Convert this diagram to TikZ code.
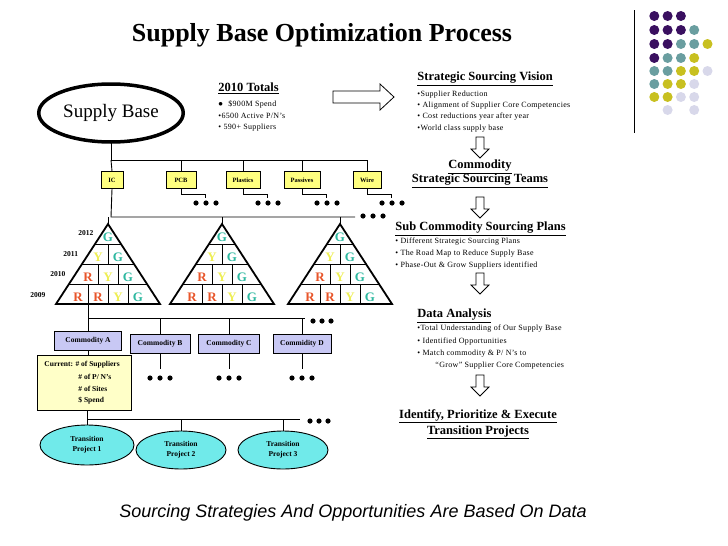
\documentclass[tikz,border=0pt]{standalone}
\usepackage{fontspec}
\setmainfont{Liberation Serif}
\newfontfamily\arialf{Liberation Sans}
\usetikzlibrary{shapes.geometric}
\definecolor{boxy}{HTML}{FFFF80}
\definecolor{curry}{HTML}{FFFFC8}
\definecolor{lav}{HTML}{C8C8F4}
\definecolor{cyanf}{HTML}{70EAEA}
\definecolor{rr}{HTML}{E8552A}
\definecolor{yy}{HTML}{EEEE55}
\definecolor{gg}{HTML}{2EB8A0}
\definecolor{dP}{HTML}{3A1060}
\definecolor{dT}{HTML}{6A9EA0}
\definecolor{dY}{HTML}{C8C020}
\definecolor{dL}{HTML}{D8D8EA}
\begin{document}
\begin{tikzpicture}[x=1pt,y=-1pt,line width=0.9pt,
  cbox/.style={draw,fill=boxy,minimum height=17,inner sep=1pt,font=\fontsize{6.5}{7}\selectfont\bfseries},
  combox/.style={draw,fill=lav,minimum height=19,inner sep=1pt,font=\fontsize{7.5}{8}\selectfont\bfseries},
  tp/.style={draw,ellipse,fill=cyanf,minimum width=90,minimum height=38,inner sep=0pt,align=center,font=\fontsize{7.5}{10}\selectfont\bfseries},
  lbl/.style={anchor=west,inner sep=0pt,font=\fontsize{8}{9}\selectfont\addfontfeature{LetterSpace=4}},
  hd/.style={inner sep=0pt,font=\fontsize{12.5}{14}\selectfont\bfseries},
  hollow/.style={draw,fill=white,line width=0.8pt},
  let/.style={font=\fontsize{13}{13}\selectfont\bfseries,inner sep=0pt}]
\useasboundingbox (0,0) rectangle (728,546);
% title
\node (title) at (322,35) {\fontsize{26}{28}\selectfont\bfseries Supply Base Optimization Process};
% palette
\draw[line width=1pt] (634,10) -- (634,133);
\foreach \row/\y in {{P,P,P}/16,{P,P,P,T}/30,{P,P,T,T,Y}/44,{P,T,T,Y}/58,{T,T,Y,Y,L}/71,{T,Y,Y,L}/84,{Y,Y,L,L}/97}{
  \foreach \c [count=\i] in \row { \fill[d\c] (641+13.3*\i,\y) circle (5); } }
\fill[dL] (667.6,110) circle (5); \fill[dL] (694.2,110) circle (5);
% supply base
\node[draw,ellipse,line width=3.5pt,minimum width=108,minimum height=58] (sb) at (111,113) {\fontsize{19}{20}\selectfont Supply Base};
\node[hd,anchor=west] (tot) at (218,88) {\underline{2010 Totals}};
\node[lbl] (t1) at (218,104) {\fontsize{9}{9}\selectfont$\bullet$\ \ \fontsize{8}{9}\selectfont\addfontfeature{LetterSpace=4}\$900M Spend};
\node[lbl] (t2) at (218,116) {\textbullet 6500 Active P/N's};
\node[lbl] (t3) at (218,128) {\textbullet\ 590+ Suppliers};
\draw[hollow] (333,91) -- (380,91) -- (380,84) -- (394,97) -- (380,110) -- (380,103) -- (333,103) -- cycle;
% right column
\node[hd,anchor=west] (ssv) at (417,79) {\underline{Strategic Sourcing Vision}};
\node[lbl] at (417,95) {\textbullet Supplier Reduction};
\node[lbl] at (417,106) {\textbullet\ Alignment of Supplier Core Competencies};
\node[lbl] at (417,117) {\textbullet\ Cost reductions year after year};
\node[lbl] at (417,129) {\textbullet World class supply base};
\foreach \yy in {137,197,273,375}{
  \draw[hollow] (476,\yy) -- (484,\yy) -- (484,\yy+12) -- (489,\yy+12) -- (480,\yy+21) -- (471,\yy+12) -- (476,\yy+12) -- cycle;}
\node[hd] (com) at (480,167) {\underline{Commodity}};
\node[hd] (sst) at (480,181) {\underline{Strategic Sourcing Teams}};
\node[hd,anchor=west] (scp) at (395,229) {\underline{Sub Commodity Sourcing Plans}};
\node[lbl] at (395,242) {\textbullet\ Different Strategic Sourcing Plans};
\node[lbl] at (395,254) {\textbullet\ The Road Map to Reduce Supply Base};
\node[lbl] at (395,266) {\textbullet\ Phase-Out \& Grow Suppliers identified};
\node[hd,anchor=west] (da) at (417,316) {\underline{Data Analysis}};
\node[lbl] at (417,329) {\textbullet Total Understanding of Our Supply Base};
\node[lbl] at (417,342) {\textbullet\ Identified Opportunities};
\node[lbl] at (417,354) {\textbullet\ Match commodity \& P/ N's to};
\node[lbl] at (435,366) {``Grow'' Supplier Core Competencies};
\node[hd] (ide) at (478,416) {\underline{Identify, Prioritize \& Execute}};
\node[hd] (trp) at (478,432) {\underline{Transition Projects}};
% commodity boxes
\node[cbox,minimum width=22] (ic) at (112,180) {IC};
\node[cbox,minimum width=30] (pcb) at (181,180) {PCB};
\node[cbox,minimum width=34] (pla) at (243,180) {Plastics};
\node[cbox,minimum width=36] (pas) at (302,180) {Passives};
\node[cbox,minimum width=28] (wir) at (367,180) {Wire};
\draw (111,142) -- (111,160) -- (367,160);
\foreach \n in {pcb,pla,pas,wir}{ \draw (\n.north) -- (\n.north |- 0,160); }
\draw (111,160) -- (ic.north);
\foreach \n in {pcb,pla,pas,wir}{
  \draw (\n.south) -- ++(0,5) -| ([xshift=24]\n.south |- 0,198);
  \foreach \k in {0,1,2}{\fill ([xshift=15+10*\k]\n.south |- 0,203) circle (2.6);}}
\draw (ic.south) -- (111,217) -- (355,217);
\foreach \k in {0,1,2}{\fill (363+10*\k,216) circle (2.6);}
% pyramids
\foreach \c/\nm in {108/pa,222/pb,340/pc}{
  \coordinate (\nm) at (\c,224);
  \draw[line width=1.8pt] (\c,224) -- (\c-52,304) -- (\c+52,304) -- cycle;
  \foreach \yy in {244,264,284}{
    \pgfmathsetmacro\hw{(\yy-224)*0.65}
    \draw[line width=1pt] (\c-\hw,\yy) -- (\c+\hw,\yy);}
  \draw[line width=1pt] (\c,244) -- (\c,264);
  \draw[line width=1pt] (\c-10,264) -- (\c-10,284) (\c+10,264) -- (\c+10,284);
  \draw[line width=1pt] (\c-20,284) -- (\c-20,304) (\c,284) -- (\c,304) (\c+20,284) -- (\c+20,304);
  \node[let,gg] at (\c,237) {G};
  \node[let,yy] at (\c-10,257) {Y}; \node[let,gg] at (\c+10,257) {G};
  \node[let,rr] at (\c-20,277) {R}; \node[let,yy] at (\c,277) {Y}; \node[let,gg] at (\c+20,277) {G};
  \node[let,rr] at (\c-30,297) {R}; \node[let,rr] at (\c-10,297) {R}; \node[let,yy] at (\c+10,297) {Y}; \node[let,gg] at (\c+30,297) {G};
}
\draw (pb) -- (222,217) (pc) -- (340,217) (pa) -- (108,217);
\node[lbl,font=\fontsize{7.5}{8}\selectfont\bfseries] (y12) at (78,233) {2012};
\node[lbl,font=\fontsize{7.5}{8}\selectfont\bfseries] (y11) at (63,254) {2011};
\node[lbl,font=\fontsize{7.5}{8}\selectfont\bfseries] (y10) at (50,274) {2010};
\node[lbl,font=\fontsize{7.5}{8}\selectfont\bfseries] (y09) at (30,295) {2009};
% commodities
\node[combox,minimum width=67] (ca) at (88,341) {Commodity A};
\node[combox,minimum width=60] (cb) at (160,344) {Commodity B};
\node[combox,minimum width=61] (cc) at (229,344) {Commodity C};
\node[combox,minimum width=58] (cd) at (302,344) {Commidity D};
\draw (88,304) -- (ca.north);
\draw (88,318) -- (305,318);
\foreach \k in {0,1,2}{\fill (313+9*\k,321) circle (2.6);}
\foreach \n in {cb,cc,cd}{ \draw (\n.north) -- (\n.north |- 0,318); \draw (\n.south) -- ++(0,15);
  \foreach \k in {-1,0,1}{\fill ([xshift=10*\k]\n.south |- 0,378) circle (2.6);}}
\node[draw,fill=curry,minimum width=94,minimum height=55,inner sep=0pt] (cur) at (84,383) {};
\node[lbl,font=\fontsize{7.5}{8}\selectfont\bfseries] at (44,365) {Current: \# of Suppliers};
\node[lbl,font=\fontsize{7.5}{8}\selectfont\bfseries] at (78,377) {\# of P/ N's};
\node[lbl,font=\fontsize{7.5}{8}\selectfont\bfseries] at (78,389) {\# of Sites};
\node[lbl,font=\fontsize{7.5}{8}\selectfont\bfseries] at (78,401) {\$ Spend};
\draw (ca.south) -- (cur.north -| ca.south);
\node[tp,minimum width=94,minimum height=40] (tp1) at (87,445) {Transition\\Project 1};
\node[tp] (tp2) at (181,450) {Transition\\Project 2};
\node[tp] (tp3) at (283,450) {Transition\\Project 3};
\draw (87,410) -- (tp1.north);
\draw (87,419) -- (300,419);
\draw (tp2.north) -- (181,419) (tp3.north) -- (283,419);
\foreach \k in {0,1,2}{\fill (310+9*\k,421) circle (2.6);}
\node[font=\arialf\itshape\fontsize{18}{20}\selectfont] (foot) at (353,513) {Sourcing Strategies And Opportunities Are Based On Data};
\end{tikzpicture}
\end{document}
